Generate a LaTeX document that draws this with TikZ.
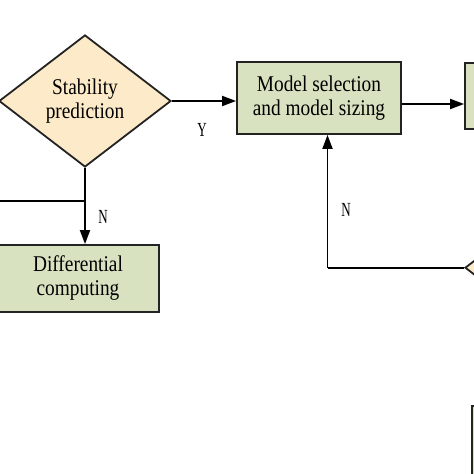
\documentclass[tikz,border=0pt]{standalone}
\usepackage{fontspec}
\setmainfont{Liberation Serif}
\usetikzlibrary{shapes.geometric,arrows.meta}
\definecolor{beige}{RGB}{252,234,200}
\definecolor{sage}{RGB}{216,226,192}
\definecolor{edgegray}{RGB}{35,35,35}
\newcommand{\cnd}[1]{\scalebox{0.86}[1]{#1}}
\begin{document}
\begin{tikzpicture}[x=1pt,y=-1pt,
  box/.style={draw=edgegray, line width=1.8pt, fill=sage, rectangle, inner sep=0pt, align=center, font=\fontsize{22.5}{24}\selectfont},
  dec/.style={draw=edgegray, line width=1.8pt, fill=beige, diamond, inner sep=0pt, minimum width=172pt, minimum height=132pt, align=center, font=\fontsize{22.5}{24}\selectfont},
  arr/.style={line width=1.8pt, draw=black, -{Triangle[length=14pt,width=10pt]}},
  ln/.style={line width=1.8pt, draw=black},
  lbl/.style={font=\fontsize{20}{20}\selectfont, inner sep=0pt}]
\useasboundingbox (0,0) rectangle (474,474);
\clip (0,0) rectangle (474,474);
\fill[white] (0,0) rectangle (474,474);
\node[dec] (stab) at (85,101) {\cnd{Stability}\\\cnd{prediction}};
\node[box, minimum width=164pt, minimum height=72pt] (model) at (319,98) {\cnd{Model selection}\\\cnd{and model sizing}};
\node[box, minimum width=100pt, minimum height=66pt] (rbox) at (515,96) {};
\node[box, minimum width=162pt, minimum height=67pt] (diff) at (78,278.5) {\cnd{Differential}\\\cnd{computing}};
\node[dec] (dec2) at (551,267.7) {};
\node[box, minimum width=100pt, minimum height=100pt] (bbox) at (522,456) {};
% connectors
\draw[arr] (stab.east) -- (stab.east -| model.west);
\node[lbl] (y) at (202,130) {\scalebox{0.65}[1]{Y}};
\draw[arr] ([yshift=-6pt]model.east) -- ([yshift=-6pt]model.east -| rbox.west);
\draw[arr] (stab.south) -- (stab.south |- diff.north);
\coordinate (j) at (0,201);
\draw[ln] (j) -- (j -| stab.south);
\node[lbl] (n1) at (103,217) {\scalebox{0.65}[1]{N}};
\coordinate (c) at (327.5,267.7);
\draw[ln] (dec2.west) -- (c);
\draw[arr] (c) -- (c |- model.south);
\node[lbl] (n2) at (346,210) {\scalebox{0.65}[1]{N}};
\end{tikzpicture}
\end{document}
